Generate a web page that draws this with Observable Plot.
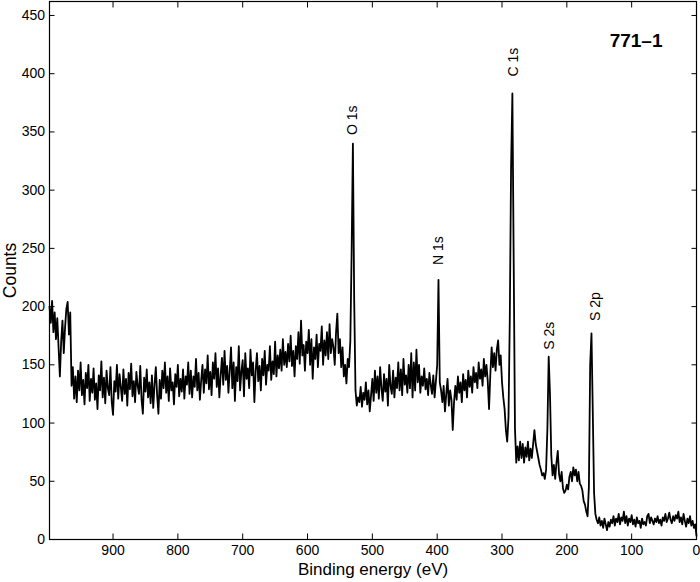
<!DOCTYPE html>
<html><head><meta charset="utf-8">
<script src="https://cdn.jsdelivr.net/npm/d3@7"></script>
<script src="https://cdn.jsdelivr.net/npm/@observablehq/plot@0.6"></script>
<style>html,body{margin:0;padding:0;background:#fff} svg{display:block}</style>
</head><body><div id="chart"></div>
<script>
// Sampling step (eV) of the survey spectrum; each segment lists counts starting at its first binding energy
const STEP = 2;
const segA = [200,186,205,178,195,172,190,165,140,170,188,160,182,198,204,176,195]; // 998..966
const segB = [132,148,121,140,118,145,128,152,124,137,
  116,143,130,150,119,138,126,147,120,134,
  112,141,128,153,122,139,117,145,130,124,
  148,118,107,136,127,150,121,142,131,119,
  146,125,138,115,143,129,151,123,136,118,
  144,132,125,149,120,108,139,127,146,122,
  135,117,141,113,133,148,124,108,137,121,
  145,130,152,126,140,119,147,128,135,116,
  142,131,150,123,138,127,146,121,140,133,
  152,125]; // 964..782
const segC = [145,122,140,131,155,128,143,120,137,150,
  126,146,134,158,129,144,124,152,138,160,
  131,147,122,141,156,133,162,137,149,126,
  145,165,130,152,119,148,136,166,128,144,
  154,123,160,138,147,130,163,141,152,118,
  145,160,136,149,128,155,141,162,133,150,
  145,166,137,153,142,170,140,158,147,163,
  145,172,150,161,148,168,153,175,149,162,
  140,166,155,178,151,188,158,167,145,170,
  160,180,150,172,138,165,155,176,148,168,
  162,183,150,171,158,178,155,185,160,172]; // 780..562
const segD = [165,150,178,194,160,172,148,165,140,150,134,155,148]; // 560..536
const peakO = [170,245,340,205,128,115]; // 534..524
const segE = [122,118,131,114,126,120,135,116,128,110,
  124,138,119,145,126,140,121,148,130,119,
  142,127,138,115,150,132,125,145,122,139,
  130,152,128,146,124,155,133,141,126,150,
  130,160,122,152,128,163,135,150,126,140,
  132,147,129,138,124,143,133,125,141,122,
  136]; // 522..402
const peakN = [150,223,135,128]; // 400..394
const segF = [118,132,110,125,138,115,128,120,94,118,
  132,120,140,126,135,118,142,128,137,122,
  145,131,140,126,148,135,143,130,152,138,
  146,132,155,140,150,136,112,142,165,148,
  160,145,163,171,150,158,135,122,112,94,
  84,105,190,320,383,240,95,66]; // 392..278
const segG = [80,68,84,70,82,66,79,71,84,68,
  78,70,82,94,82,76,70,64,60,55,
  57,52,60,95,157,125,72,55,64,52,
  66,76,56,50,58,44,40,42,47,43,
  54,58,50,62,55,60,50,58,48,46,
  42,33,30,24,20,45,150,177,110,40,
  22,17]; // 276..154
const segH = [14,19,12,16,10,18,13,8,15,11,
  17,14,20,12,18,15,22,13,19,16,
  24,14,20,12,18,15,21,13,17,11,
  19,14,16,10,18,13,15,12,20,22,
  14,19,16,13,18,15,20,14,17,12,
  19,16,22,15,18,23,17,14,20,16,
  21,18,24,15,19,13,22,16,11,18,
  14,20,12,16,10,13,3]; // 152..0
const segmentStarts = [998, 964, 780, 560, 534, 522, 400, 392, 276, 152];
const segmentValues = [segA, segB, segC, segD, peakO, segE, peakN, segF, segG, segH];

const xTicks = [0,100,200,300,400,500,600,700,800,900];
const yTicks = [0,50,100,150,200,250,300,350,400,450];

const peakNames = ["O 1s","N 1s","C 1s","S 2s","S 2p"];
const peakLabelEnergy = [531, 398, 282.5, 226, 156];
const peakLabelCounts = [360, 248, 410, 175, 200];

const title = "771–1";
const xLabel = "Binding energy (eV)";
const yLabel = "Counts";

const data = segmentStarts.flatMap((s, k) => segmentValues[k].map((c, i) => ({energy: s - STEP * i, counts: c})));
const labels = peakNames.map((n, i) => ({name: n, energy: peakLabelEnergy[i], counts: peakLabelCounts[i]}));

const font = "'Liberation Sans', Arial, Helvetica, sans-serif";
const chart = Plot.plot({
  width: 700, height: 582,
  marginLeft: 49, marginRight: 4, marginTop: 1, marginBottom: 43,
  style: {fontFamily: font, fontSize: "14px", background: "white", color: "black"},
  x: {domain: [998, 0]},
  y: {domain: [0, 462]},
  marks: [
    Plot.line(data, {x: "energy", y: "counts", stroke: "black", strokeWidth: 1.8}),
    Plot.frame({stroke: "black", strokeWidth: 1.2}),
    Plot.axisX(xTicks, {anchor: "bottom", tickSize: -5.5, fill: "none", label: null}),
    Plot.axisX(xTicks, {anchor: "top", tickSize: -5.5, fill: "none", label: null}),
    Plot.axisY(yTicks, {anchor: "left", tickSize: -5.5, fill: "none", label: null}),
    Plot.axisY(yTicks, {anchor: "right", tickSize: -5.5, fill: "none", label: null}),
    Plot.axisX(xTicks, {anchor: "bottom", tickSize: 0, tickPadding: 6, label: null, fontSize: 14, tickFormat: d => String(d)}),
    Plot.axisY(yTicks, {anchor: "left", tickSize: 0, tickPadding: 4.5, label: null, fontSize: 14, tickFormat: d => String(d)}),
    Plot.text(labels, {x: "energy", y: "counts", text: "name", rotate: -90, textAnchor: "middle", lineAnchor: "middle", fontSize: 14, fill: "black"}),
    Plot.text([title], {text: d => d, frameAnchor: "top-right", dx: -34, dy: 32, textAnchor: "end", lineAnchor: "top", fontSize: 19, fontWeight: "bold", fill: "black"}),
    Plot.text([xLabel], {text: d => d, frameAnchor: "bottom", dy: 35.5, lineAnchor: "bottom", fontSize: 17, fill: "black"}),
    Plot.text([yLabel], {text: d => d, frameAnchor: "left", dx: -39.5, rotate: -90, textAnchor: "middle", lineAnchor: "middle", fontSize: 17.5, fill: "black"})
  ]
});
document.getElementById("chart").appendChild(chart);
</script>
</body></html>
